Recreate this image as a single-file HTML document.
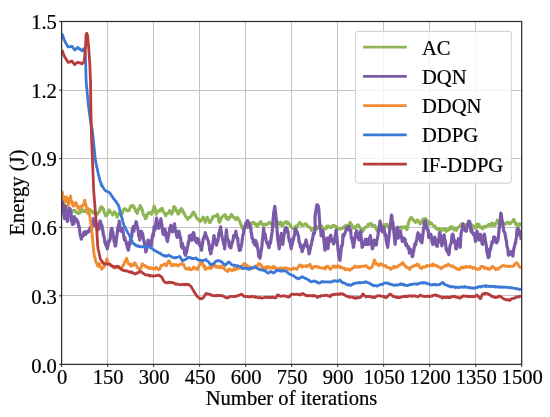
<!DOCTYPE html>
<html lang="en"><head><meta charset="utf-8"><title>Energy vs iterations</title>
<style>
html,body{margin:0;padding:0;background:#fff;}
body{width:550px;height:417px;overflow:hidden;}
svg{display:block;}
text{font-family:"Liberation Serif","Times New Roman",serif;font-size:20.6px;fill:#000;stroke:#000;stroke-width:0.22px;}
</style></head><body>
<svg width="550" height="417" viewBox="0 0 550 417">
<rect x="0" y="0" width="550" height="417" fill="#fff"/>
<g stroke="#c2c2c2" stroke-width="1" fill="none">
<line x1="61.5" y1="21.5" x2="61.5" y2="364.4"/>
<line x1="107.5" y1="21.5" x2="107.5" y2="364.4"/>
<line x1="153.5" y1="21.5" x2="153.5" y2="364.4"/>
<line x1="199.5" y1="21.5" x2="199.5" y2="364.4"/>
<line x1="245.5" y1="21.5" x2="245.5" y2="364.4"/>
<line x1="291.5" y1="21.5" x2="291.5" y2="364.4"/>
<line x1="337.5" y1="21.5" x2="337.5" y2="364.4"/>
<line x1="383.5" y1="21.5" x2="383.5" y2="364.4"/>
<line x1="429.5" y1="21.5" x2="429.5" y2="364.4"/>
<line x1="475.5" y1="21.5" x2="475.5" y2="364.4"/>
<line x1="521.5" y1="21.5" x2="521.5" y2="364.4"/>
<line x1="61.6" y1="364.5" x2="521.7" y2="364.5"/>
<line x1="61.6" y1="295.5" x2="521.7" y2="295.5"/>
<line x1="61.6" y1="227.5" x2="521.7" y2="227.5"/>
<line x1="61.6" y1="158.5" x2="521.7" y2="158.5"/>
<line x1="61.6" y1="90.5" x2="521.7" y2="90.5"/>
<line x1="61.6" y1="21.5" x2="521.7" y2="21.5"/>
</g>
<defs><clipPath id="pc"><rect x="61.6" y="21.5" width="460.1" height="342.9"/></clipPath></defs>
<g clip-path="url(#pc)" fill="none" stroke-linejoin="round" stroke-linecap="butt">
<polyline stroke="#8fb555" stroke-width="3.1" points="62.0,201.1 62.8,202.3 63.6,203.6 64.4,205.6 65.2,206.9 66.0,206.9 66.7,207.8 67.4,207.5 68.2,209.0 68.9,209.9 69.6,209.9 70.4,210.8 71.1,210.1 71.8,211.2 72.5,211.2 73.3,210.4 74.0,210.6 74.7,210.3 75.5,211.3 76.2,212.4 76.9,212.8 77.7,212.4 78.4,213.5 79.1,212.8 79.9,212.9 80.6,211.6 81.3,209.9 82.0,208.9 82.8,211.3 83.5,211.4 84.2,210.6 85.0,211.4 85.7,210.4 86.4,210.7 87.2,210.9 87.9,211.2 88.6,209.5 89.4,211.5 90.1,209.9 90.8,210.0 91.5,211.1 92.3,211.5 93.0,213.1 93.7,212.0 94.5,212.4 95.2,212.4 95.9,213.3 96.7,213.1 97.4,214.2 98.1,212.8 98.9,212.0 99.6,211.2 100.3,208.1 101.1,207.0 101.8,206.9 102.5,208.2 103.2,208.4 104.0,212.0 104.7,213.0 105.4,215.5 106.2,215.7 106.9,214.8 107.6,214.2 108.4,210.4 109.1,209.9 109.8,210.9 110.6,212.3 111.3,213.1 112.0,213.2 112.7,215.0 113.5,213.9 114.2,211.9 114.9,212.0 115.7,213.3 116.4,213.7 117.1,217.3 117.9,215.7 118.6,214.8 119.3,213.4 120.1,214.6 120.8,212.7 121.5,212.1 122.3,213.4 123.0,211.2 123.7,209.1 124.4,209.1 125.2,208.8 125.9,209.4 126.6,210.5 127.4,210.8 128.1,210.6 129.0,210.7 129.9,208.4 130.0,208.4 130.7,206.0 131.5,206.6 132.2,205.5 132.9,206.2 133.7,206.1 134.4,208.4 135.1,208.7 135.8,211.4 136.6,212.2 137.3,213.5 138.0,210.3 138.8,209.1 139.5,207.6 140.2,205.5 141.0,207.4 141.7,208.6 142.4,210.6 143.2,213.7 143.9,215.9 144.6,215.1 145.4,218.6 146.1,218.2 146.8,216.5 147.5,214.0 148.3,212.8 149.0,213.1 149.7,212.6 150.5,213.1 151.2,214.2 151.9,212.6 152.7,211.0 153.4,209.0 154.1,206.2 154.9,207.8 155.6,211.2 156.3,214.2 157.0,212.7 157.8,211.6 158.5,210.7 159.2,211.3 160.0,211.1 160.7,208.9 161.4,209.1 162.2,208.4 162.9,210.7 163.6,212.5 164.4,212.9 165.1,214.8 165.8,215.7 166.5,214.0 167.3,213.4 168.0,213.2 168.7,212.7 169.5,210.6 170.2,211.7 170.9,212.0 171.7,214.2 172.4,212.6 173.1,209.9 173.9,206.7 174.6,206.9 175.3,207.7 176.1,211.0 176.8,210.3 177.5,212.6 178.2,214.2 179.0,212.9 179.7,210.7 180.4,210.1 181.2,208.4 181.9,211.1 182.6,209.9 183.4,212.8 184.1,212.8 184.8,215.0 185.6,216.4 186.3,217.2 187.0,218.2 187.7,219.4 188.5,217.8 189.2,217.4 189.9,217.5 190.7,216.4 191.4,215.8 192.1,214.7 192.9,212.3 193.6,212.0 194.3,214.1 195.1,214.0 195.8,216.5 196.5,217.9 197.3,218.5 198.0,218.7 198.7,220.3 199.4,220.0 200.2,221.5 200.9,220.6 201.6,219.9 202.4,218.6 203.1,217.2 203.8,218.3 204.6,219.9 205.3,221.5 205.0,222.4 205.7,220.2 206.5,219.9 207.2,217.3 207.9,218.5 208.7,221.0 209.4,222.4 210.1,222.6 210.8,221.3 211.6,219.7 212.3,218.7 213.0,216.6 213.8,216.5 214.5,216.5 215.2,215.7 216.0,215.7 216.7,216.3 217.4,214.4 218.2,216.5 218.9,221.5 219.6,222.4 220.4,220.7 221.1,218.9 221.8,217.1 222.5,216.5 223.3,216.1 224.0,215.8 224.7,214.5 225.5,215.1 226.2,218.5 226.9,217.2 227.7,219.1 228.4,219.5 229.1,217.3 229.9,217.5 230.6,216.1 231.3,214.4 232.0,215.1 232.8,216.6 233.5,217.5 234.2,218.0 235.0,217.7 235.7,219.6 236.4,218.6 237.2,217.7 237.9,218.0 238.6,219.5 239.4,220.8 240.1,222.4 240.8,224.2 241.5,225.5 242.3,228.2 243.0,228.6 243.7,228.3 244.5,226.8 245.2,226.8 245.9,226.7 246.7,225.6 247.4,227.8 248.1,226.3 248.9,226.8 249.6,226.0 250.3,225.9 251.1,224.4 251.8,223.6 252.5,222.4 253.2,222.6 254.0,222.5 254.7,224.3 255.4,223.9 256.2,224.0 256.9,226.2 257.6,226.1 258.4,223.9 259.1,223.9 259.8,222.7 260.6,221.7 261.3,222.3 262.0,224.1 262.7,224.9 263.5,225.3 264.2,225.3 264.9,224.1 265.7,224.6 266.4,224.6 267.1,224.1 267.9,224.1 268.6,222.8 269.3,222.4 270.1,222.7 270.8,223.7 271.5,223.3 272.3,225.3 273.0,225.8 273.7,226.2 274.4,224.2 275.2,223.9 275.9,224.5 276.6,223.0 277.4,223.7 278.1,222.4 279.0,224.2 279.9,224.6 280.0,223.9 280.7,222.2 281.5,224.2 282.2,225.9 282.9,225.3 283.7,223.6 284.4,222.9 285.1,222.2 285.8,221.7 286.6,223.0 287.3,221.8 288.0,224.1 288.8,223.1 289.5,224.5 290.2,225.3 291.0,226.8 291.7,227.4 292.4,227.9 293.2,228.4 293.9,228.2 294.6,228.3 295.4,226.4 296.1,227.5 296.8,227.5 297.5,226.0 298.3,224.4 299.0,223.8 299.7,222.4 300.5,223.3 301.2,224.1 301.9,225.5 302.7,225.3 303.4,224.8 304.1,225.0 304.9,223.8 305.6,223.9 306.3,224.6 307.0,225.1 307.8,226.3 308.5,226.8 309.2,227.5 310.0,227.4 310.7,227.8 311.4,230.3 312.2,229.7 312.9,229.1 313.6,229.9 314.4,227.5 315.1,228.2 315.8,228.5 316.5,227.1 317.3,228.8 318.0,226.8 318.7,227.5 319.5,227.8 320.2,228.0 320.9,227.8 321.7,226.2 322.4,226.8 323.1,228.3 323.9,228.1 324.6,228.8 325.3,229.0 326.1,228.7 326.8,226.2 327.5,227.4 328.2,226.1 329.0,226.3 329.7,226.9 330.4,227.6 331.2,227.5 331.9,227.0 332.6,225.6 333.4,226.4 334.1,225.3 334.8,226.2 335.6,226.2 336.3,227.3 337.0,227.5 337.7,227.7 338.5,228.1 339.2,229.0 339.9,229.0 340.7,228.9 341.4,228.3 342.1,228.7 342.9,227.5 343.6,226.9 344.3,227.6 345.1,226.7 345.8,225.3 346.5,225.3 347.3,226.0 348.0,226.8 348.7,225.4 349.4,223.9 350.2,222.4 350.9,224.2 351.6,224.6 352.4,226.8 353.2,228.2 354.0,228.1 354.9,228.0 355.0,226.8 355.7,226.6 356.5,226.9 357.2,225.1 357.9,225.3 358.7,225.0 359.4,227.1 360.1,228.0 360.8,228.2 361.6,229.9 362.3,231.5 363.0,231.2 363.8,229.3 364.5,228.1 365.2,227.8 366.0,226.8 366.7,226.8 367.4,226.7 368.2,224.3 368.9,225.0 369.6,223.9 370.4,223.7 371.1,223.4 371.8,224.9 372.5,226.1 373.3,226.2 374.0,225.3 374.7,225.3 375.5,227.9 376.2,227.7 376.9,230.4 377.7,231.1 378.4,228.2 379.1,228.2 379.9,228.9 380.6,226.2 381.3,226.8 382.0,227.1 382.8,224.9 383.5,224.6 384.2,224.6 385.0,225.5 385.7,224.7 386.4,225.3 387.2,224.3 387.9,227.2 388.6,227.8 389.4,228.2 390.1,228.7 390.8,228.0 391.5,227.5 392.3,228.1 393.0,228.6 393.7,228.7 394.5,228.2 395.2,228.1 395.9,228.5 396.7,228.4 397.4,227.3 398.1,229.1 398.9,228.2 399.6,228.3 400.3,227.2 401.1,228.0 401.8,226.8 402.5,228.0 403.2,227.5 404.0,227.4 404.7,226.8 405.4,226.9 406.2,228.3 406.9,229.7 407.6,227.5 408.4,222.8 409.1,220.9 409.8,219.4 410.6,218.1 411.3,217.3 412.0,218.3 412.7,219.7 413.5,220.2 414.2,220.7 414.9,221.8 415.7,222.4 416.4,221.5 417.1,220.1 417.9,220.2 418.6,220.9 419.3,222.5 420.1,223.9 420.8,222.6 421.5,223.0 422.3,220.9 423.0,219.0 423.7,220.0 424.4,218.9 425.2,218.7 425.9,218.7 426.6,221.0 427.4,220.9 428.1,222.4 429.0,224.0 429.9,223.6 430.0,222.4 430.7,223.7 431.5,223.2 432.2,224.4 432.9,225.3 433.7,225.7 434.4,226.8 435.1,226.2 435.8,228.2 436.6,228.4 437.3,229.5 438.0,229.4 438.8,229.7 439.5,228.4 440.2,230.1 441.0,230.1 441.7,230.4 442.4,230.2 443.2,228.8 443.9,229.5 444.6,229.0 445.4,228.9 446.1,231.5 446.8,230.6 447.5,230.4 448.3,229.3 449.0,229.6 449.7,228.2 450.5,226.8 451.2,227.4 451.9,228.6 452.7,227.0 453.4,228.2 454.1,229.8 454.9,229.2 455.6,228.1 456.3,230.4 457.0,229.2 457.8,227.8 458.5,227.0 459.2,226.8 460.0,226.3 460.7,224.7 461.4,224.2 462.2,223.9 462.9,223.9 463.6,224.2 464.4,226.3 465.1,225.3 465.8,224.9 466.5,225.4 467.3,224.2 468.0,224.6 468.7,224.6 469.5,223.4 470.2,225.5 470.9,225.3 471.7,224.8 472.4,225.3 473.1,227.1 473.9,226.8 474.6,226.3 475.3,228.2 476.1,227.4 476.8,224.5 477.5,226.6 478.2,223.9 479.0,224.7 479.7,227.2 480.4,227.1 481.2,227.5 481.9,227.0 482.6,229.0 483.4,226.8 484.1,226.8 484.8,226.6 485.6,227.1 486.3,226.2 487.0,226.1 487.7,226.1 488.5,224.7 489.2,224.3 489.9,224.6 490.7,223.9 491.4,225.9 492.1,223.1 492.9,223.7 493.6,223.5 494.3,225.4 495.1,225.3 495.8,223.9 496.5,222.8 497.3,220.2 498.0,221.7 498.7,222.6 499.4,223.9 500.2,225.1 500.9,223.5 501.6,224.1 502.4,224.2 503.1,224.6 503.8,222.9 504.6,223.8 505.3,223.7 506.0,223.9 506.8,222.7 507.5,222.3 508.2,222.4 509.1,223.4 510.0,223.9 510.8,223.1 511.5,222.1 512.3,221.7 513.1,220.1 513.9,219.4 514.6,221.4 515.3,223.0 516.1,225.3 516.8,223.6 517.5,224.6 518.2,224.5 519.0,225.4 519.7,223.7 520.4,224.2 521.2,225.9"/>
<polyline stroke="#7a5aa8" stroke-width="3.2" points="62.0,199.6 64.5,218.6 65.2,205.5 67.4,221.5 67.9,220.1 68.3,211.2 68.7,211.0 69.2,210.8 69.6,208.4 70.1,208.9 70.6,211.5 71.1,212.9 71.6,221.3 72.1,220.9 72.5,224.5 73.0,224.0 73.4,219.5 73.9,223.6 74.3,216.6 74.7,218.6 75.2,218.2 75.7,219.5 76.2,218.9 76.7,220.0 77.2,221.7 77.7,221.5 78.1,222.4 78.6,226.9 79.0,226.1 79.5,228.4 79.9,232.7 80.4,235.7 80.9,237.0 81.3,239.1 81.8,236.4 82.3,236.7 82.8,236.5 83.3,235.7 83.8,232.6 84.2,233.2 84.7,233.4 85.1,231.7 85.6,234.5 86.0,232.1 86.4,232.6 86.9,231.8 87.3,232.5 87.7,231.3 88.2,230.9 88.6,231.8 89.1,231.6 89.6,229.2 90.1,227.7 90.6,228.3 91.1,227.0 91.5,225.9 92.0,227.4 92.4,225.7 92.9,224.4 93.3,218.5 93.7,221.5 94.2,221.1 94.6,225.2 95.0,223.8 95.5,223.8 95.9,221.8 96.3,227.1 96.8,228.4 97.2,227.5 97.6,226.0 98.0,229.8 98.5,229.4 98.9,228.4 99.4,224.2 99.8,222.4 100.2,221.0 100.7,222.8 101.1,224.7 101.5,226.2 102.0,225.5 102.4,229.8 102.9,230.3 103.4,235.3 103.9,235.6 104.4,238.2 104.9,242.7 105.4,242.9 105.8,245.3 106.3,242.6 106.8,246.6 107.3,248.8 107.7,247.0 108.1,245.3 108.5,241.5 108.9,242.4 109.3,241.6 109.7,240.0 110.2,239.3 110.6,233.7 111.1,229.6 111.5,229.3 111.9,228.3 112.4,231.5 112.8,231.9 113.2,235.7 113.7,237.4 114.1,241.5 114.6,242.4 115.1,246.0 115.6,245.9 117.8,228.3 118.3,225.7 118.8,226.6 119.2,221.0 120.7,231.2 121.1,230.0 121.6,229.3 122.0,229.5 122.5,228.3 124.4,240.0 124.8,237.5 125.2,240.6 125.7,241.0 126.1,241.8 126.5,244.4 127.0,244.8 127.4,247.7 127.9,247.5 128.3,250.2 128.8,247.5 129.3,242.6 129.7,245.0 130.2,241.5 130.6,239.1 131.1,236.7 131.5,237.5 132.0,234.5 132.4,228.3 132.9,231.1 133.4,226.4 133.9,231.2 134.3,227.9 134.7,227.9 135.2,227.6 135.6,223.9 136.1,221.7 136.5,222.5 137.0,225.7 137.5,228.0 138.0,229.8 138.4,232.1 138.8,236.3 139.3,236.3 139.7,240.0 140.2,237.7 140.7,233.6 141.2,231.2 141.6,231.6 142.0,233.4 142.5,233.3 142.9,235.6 143.4,238.6 143.9,241.0 144.3,242.5 144.8,245.9 145.3,246.0 145.8,252.0 146.3,251.0 146.7,248.1 147.2,245.2 147.6,243.0 148.0,240.1 148.5,241.5 148.9,240.9 149.4,243.0 149.8,245.0 150.2,244.1 150.7,245.9 151.1,246.6 151.5,242.7 152.0,238.0 152.4,236.1 152.9,234.2 153.3,236.2 153.7,231.6 154.2,226.5 154.6,230.2 155.1,229.8 156.5,218.1 157.0,219.9 157.4,225.0 157.8,222.8 158.3,227.6 158.7,228.3 159.2,227.3 159.6,224.5 160.0,222.4 160.5,221.7 160.9,218.8 163.1,234.2 163.5,232.2 164.0,234.5 164.4,232.5 164.9,229.0 165.3,231.2 165.7,236.2 166.2,233.0 166.6,237.1 167.0,240.5 167.5,241.5 168.7,234.2 169.1,233.3 169.5,228.9 170.0,229.0 170.4,226.7 170.8,225.4 171.3,228.0 171.7,230.0 172.2,231.2 172.6,231.9 173.0,231.2 173.5,229.8 174.0,225.8 174.5,223.9 174.9,226.8 175.4,229.3 175.8,230.9 176.3,234.8 176.7,235.6 177.1,237.4 177.6,233.1 178.0,231.8 178.5,232.8 178.9,231.2 179.3,232.4 179.8,235.4 180.2,237.9 180.6,237.7 181.1,242.9 181.5,246.9 182.0,247.7 182.4,243.4 182.8,245.7 183.3,247.3 183.7,248.7 184.2,247.7 184.6,253.7 185.0,254.4 185.5,255.4 185.9,253.1 186.3,253.0 186.8,251.1 187.2,248.8 187.7,245.9 188.1,244.4 188.5,241.4 189.0,241.7 189.4,235.5 189.9,235.6 190.3,238.0 190.7,237.7 191.2,236.1 191.6,239.6 192.0,240.0 192.5,234.2 193.0,236.1 193.5,232.7 193.9,233.3 194.4,237.8 194.8,237.0 195.3,240.3 195.7,241.5 196.1,241.4 196.6,239.6 197.0,242.8 197.5,238.5 197.9,238.5 198.3,240.7 198.8,239.7 199.2,242.2 199.6,245.3 200.1,245.9 200.6,244.8 201.1,248.3 201.5,250.2 203.3,238.5 203.8,238.0 204.3,236.1 204.7,237.1 205.2,232.7 205.6,234.5 206.1,235.2 206.5,236.4 207.0,238.9 207.4,238.5 207.9,240.1 208.4,241.1 208.9,244.4 209.3,244.8 209.7,250.4 210.2,249.0 210.6,253.8 211.1,253.2 211.5,247.2 212.0,249.0 212.5,245.9 214.0,235.6 214.4,238.0 214.9,240.8 215.3,241.5 215.7,241.5 216.2,244.4 216.6,245.1 217.0,243.3 217.5,240.1 217.9,240.8 218.4,237.1 218.8,233.3 219.2,234.1 219.7,230.3 220.1,229.8 220.6,226.9 221.0,230.8 221.4,233.7 221.9,235.6 222.3,238.5 222.7,238.5 223.2,241.5 223.7,244.3 224.2,245.3 224.6,248.8 226.4,229.8 226.8,234.7 227.3,237.3 227.7,240.1 228.2,240.0 228.6,240.4 229.1,244.9 229.6,247.0 230.1,247.3 230.5,246.9 230.9,247.8 231.4,245.5 231.8,242.5 232.3,242.9 232.7,241.2 233.1,240.0 233.6,235.6 234.0,236.5 234.4,235.6 234.9,234.8 235.4,235.2 235.9,231.2 236.3,233.7 236.8,238.0 237.2,238.4 237.7,238.0 238.1,242.9 238.5,245.6 239.0,247.9 239.4,250.4 239.9,246.5 240.3,250.2 240.8,247.4 241.2,246.3 241.7,243.8 242.2,240.0 242.6,237.1 243.1,234.2 243.5,233.9 243.9,229.2 244.4,228.3 244.8,226.9 245.3,226.4 245.7,223.1 246.1,226.9 246.6,223.9 247.1,224.1 247.6,220.7 248.0,221.0 248.5,223.1 248.9,222.6 249.4,223.8 249.8,225.7 250.2,228.3 250.7,227.0 251.1,232.1 251.5,233.5 252.0,238.2 252.4,238.5 252.9,238.6 253.3,242.4 253.7,242.8 254.2,240.3 254.6,244.4 255.1,245.0 255.5,244.7 255.9,240.7 256.4,246.3 256.8,242.9 258.3,251.7 258.7,256.7 259.2,255.5 259.6,256.1 260.0,258.3 261.9,245.9 263.7,228.3 264.2,233.3 264.6,234.5 265.1,234.0 265.6,237.1 266.1,240.6 266.5,241.9 267.0,243.0 267.5,244.4 267.9,244.4 268.4,245.9 268.8,247.7 269.2,247.3 269.7,241.6 270.2,243.7 270.7,241.5 272.2,231.2 273.6,213.7 274.8,206.4 276.3,219.5 277.7,238.5 279.2,248.8 280.9,235.6 281.4,233.5 281.8,243.1 282.3,240.2 282.7,244.4 284.6,231.2 285.0,229.4 285.5,228.1 285.9,227.5 286.3,229.8 286.8,228.3 287.2,229.0 287.7,232.7 288.1,231.8 288.5,236.9 289.0,238.5 289.4,241.5 289.9,240.2 290.3,243.4 290.7,245.9 291.2,248.8 291.6,246.8 292.0,242.8 292.5,243.6 292.9,238.6 293.4,240.0 293.8,237.7 294.2,235.8 294.7,234.0 295.1,229.2 295.6,229.0 296.0,231.7 296.4,230.5 296.9,232.4 297.3,232.1 297.7,234.2 298.2,235.2 298.6,237.0 299.1,242.4 299.5,242.7 299.9,242.9 300.4,247.0 300.8,246.4 301.3,245.6 301.7,249.2 302.1,251.7 302.6,249.9 303.0,249.3 303.5,246.7 303.9,245.6 304.3,244.4 304.8,245.2 305.2,245.7 305.6,242.0 306.1,240.0 306.6,244.0 307.0,243.8 307.5,247.3 308.0,247.3 308.5,249.4 309.0,253.9 309.4,253.2 309.9,249.7 310.3,249.3 310.8,245.6 311.2,245.5 311.6,242.9 312.1,240.9 312.5,238.6 313.0,236.6 313.4,233.1 313.8,234.2 314.3,233.7 314.8,231.5 315.3,228.3 315.0,216.6 316.8,204.9 317.2,206.9 317.7,205.0 318.2,205.9 318.7,207.8 320.1,228.3 320.6,229.2 321.1,235.8 321.6,235.6 322.1,230.3 322.6,232.9 323.0,231.2 324.9,250.2 326.7,238.5 327.1,238.0 327.6,240.3 328.0,248.6 328.5,244.4 328.9,242.3 329.4,241.4 329.9,236.7 330.4,235.6 330.8,235.2 331.3,239.3 331.8,239.2 332.3,240.0 332.7,242.0 333.1,241.7 333.6,243.9 334.0,242.9 336.2,229.8 338.1,250.2 338.5,252.7 339.0,258.2 339.4,256.8 339.9,260.5 341.6,245.9 342.1,246.0 342.6,243.0 343.0,234.7 343.5,235.6 343.9,236.1 344.4,234.0 344.8,233.6 345.3,232.3 345.7,231.2 346.1,229.5 346.6,227.8 347.0,228.7 347.5,227.1 347.9,226.9 348.3,229.2 348.8,229.6 349.2,226.3 349.6,230.5 350.1,229.8 350.6,229.8 351.1,235.9 351.5,238.5 352.0,237.6 352.4,242.3 352.9,242.9 353.3,247.3 353.8,246.6 354.3,241.3 354.7,239.1 355.2,237.1 355.7,233.0 356.2,236.1 356.6,230.5 357.1,232.7 357.5,234.0 358.0,237.8 358.4,234.7 358.9,240.0 359.3,235.1 359.7,233.7 360.2,232.6 360.6,231.2 362.1,247.3 362.6,247.1 363.0,243.9 363.5,244.0 364.0,242.9 364.4,241.9 364.9,244.5 365.3,239.4 365.7,239.4 366.2,240.0 366.6,239.4 367.0,244.4 367.5,241.9 367.9,242.4 368.4,244.4 368.8,243.3 369.3,238.4 369.8,239.5 370.3,235.6 372.3,248.8 372.8,248.2 373.3,242.9 373.7,243.7 374.2,240.0 374.6,244.9 375.1,241.7 375.5,243.6 376.0,245.1 376.4,244.4 376.9,240.4 377.4,238.4 377.9,235.6 380.1,221.0 380.5,223.6 381.0,227.7 381.5,228.9 382.0,231.2 382.4,231.8 382.8,229.2 383.3,227.9 383.7,226.9 384.2,229.9 384.6,232.3 385.0,235.4 385.5,233.9 385.9,237.1 386.3,241.2 386.8,243.5 387.2,245.2 387.7,247.3 390.0,228.3 391.5,215.2 391.9,216.3 392.3,221.5 392.8,222.1 393.2,225.4 395.1,244.4 397.0,228.3 397.5,227.3 397.9,231.0 398.3,238.2 398.8,237.1 399.2,232.7 399.6,232.9 400.1,231.7 400.5,231.2 401.0,235.6 401.5,236.3 402.0,240.2 402.4,241.5 402.9,239.7 403.3,240.3 403.7,238.1 404.2,239.7 404.6,240.0 405.1,239.1 405.5,243.8 405.9,245.2 406.4,243.5 406.8,245.9 407.3,245.7 407.7,246.3 408.1,248.6 408.6,246.8 409.0,248.8 409.4,253.1 409.9,249.9 410.3,249.1 410.8,250.7 411.2,253.2 411.7,252.4 412.2,256.7 412.7,256.1 413.1,253.2 413.6,251.8 414.1,247.7 414.6,245.9 415.0,243.6 415.4,245.3 415.9,242.9 416.3,241.5 416.8,239.6 417.2,236.6 417.6,234.6 418.1,232.7 418.5,234.1 419.0,238.0 419.5,234.6 420.0,237.1 420.4,240.8 420.9,241.3 421.4,241.4 421.9,242.9 423.6,228.3 424.1,226.8 424.5,221.7 424.9,222.1 425.4,221.0 425.9,226.9 426.3,228.1 426.8,225.9 427.3,229.8 427.8,230.6 428.2,230.6 428.7,237.7 429.2,237.1 429.6,234.4 430.1,237.6 430.5,235.8 430.9,234.2 431.4,236.9 431.8,240.9 432.3,242.6 432.7,244.4 433.2,242.5 433.6,240.3 434.1,239.4 434.6,237.1 435.1,237.9 435.5,240.1 436.0,244.7 436.5,245.9 436.9,243.6 437.4,246.3 437.8,241.3 438.2,240.0 438.7,242.2 439.1,237.0 439.6,232.5 440.0,232.7 441.9,245.9 442.4,243.9 442.9,239.7 443.3,236.7 443.8,235.6 444.2,234.9 444.7,239.8 445.1,240.0 445.6,242.9 446.0,247.6 446.4,250.2 446.9,249.2 447.3,251.7 447.8,252.3 448.3,252.2 448.8,254.6 449.2,253.3 449.7,247.6 450.2,245.2 450.7,244.4 451.1,243.3 451.5,241.1 452.0,235.0 452.4,237.3 452.9,234.2 453.3,235.7 453.7,239.4 454.2,239.7 454.6,242.9 455.1,241.0 455.6,247.0 456.0,248.9 456.5,248.8 457.0,243.0 457.5,245.8 457.9,242.6 458.4,238.5 458.9,243.0 459.3,240.3 459.7,243.6 460.2,247.3 461.0,234.2 461.4,231.8 461.9,230.3 462.4,227.4 462.9,223.9 463.3,224.8 463.7,227.6 464.2,227.9 464.6,229.8 465.1,230.6 465.5,231.1 465.9,231.2 466.4,231.1 466.8,228.3 467.3,226.3 467.8,223.8 468.2,224.4 468.7,221.0 469.2,224.2 469.6,221.6 470.0,222.8 470.5,226.9 470.9,230.9 471.3,231.7 471.8,229.4 472.2,232.7 472.7,233.1 473.2,234.4 473.6,233.3 474.1,235.6 474.6,235.4 475.1,239.5 475.6,241.5 477.0,231.2 477.5,232.9 478.0,239.0 478.5,237.4 478.9,240.0 479.4,238.6 479.8,237.8 480.3,234.3 480.7,235.6 481.1,240.8 481.6,240.2 482.0,243.1 482.5,244.4 482.9,242.8 483.4,239.1 483.9,235.4 484.4,234.2 486.3,245.9 486.7,250.2 487.1,253.1 487.5,253.2 487.9,256.2 488.3,257.6 488.8,257.1 489.3,255.8 489.7,248.9 490.2,250.2 490.6,249.2 491.1,245.8 491.5,245.5 492.0,241.7 492.4,241.5 492.8,242.8 493.3,241.1 493.7,237.2 494.2,237.5 494.6,237.1 495.1,238.9 495.5,239.7 496.0,241.9 496.5,242.9 496.9,242.4 497.4,238.9 497.8,241.0 498.2,238.5 499.7,223.9 500.9,213.0 501.4,215.7 501.9,220.2 502.3,221.0 503.8,231.2 504.2,232.0 504.7,232.3 505.1,234.3 505.6,237.1 506.0,239.8 506.4,240.4 506.9,246.2 507.3,247.3 507.8,248.2 508.3,254.8 508.7,255.3 509.2,254.6 509.7,254.1 510.2,252.6 510.6,252.2 511.1,251.7 511.5,254.2 512.0,254.0 512.4,254.8 512.9,256.1 513.3,251.5 513.7,249.3 514.2,247.3 514.6,245.9 515.1,243.2 515.6,243.0 516.0,239.5 516.5,237.1 517.0,229.7 517.5,235.2 517.9,228.3 518.4,229.8 518.9,230.2 519.4,233.6 519.9,231.2 521.3,240.0"/>
<polyline stroke="#f28c33" stroke-width="2.9" points="62.0,190.8 62.5,194.0 62.9,198.6 63.3,199.2 63.8,197.4 64.2,198.4 64.6,196.8 65.1,199.7 65.5,201.2 66.0,201.8 66.4,198.8 66.7,196.9 67.1,199.6 67.6,199.3 68.0,198.3 68.5,205.6 68.9,203.3 69.3,202.7 69.8,199.8 70.2,197.8 70.6,196.0 71.1,201.0 71.6,202.0 72.1,201.4 72.5,204.0 73.0,206.0 73.5,204.0 74.0,205.7 74.5,203.4 75.0,205.3 75.5,203.3 75.9,202.5 76.4,203.4 76.8,206.1 77.3,206.6 77.8,205.7 78.2,208.2 78.7,207.9 79.1,209.1 79.6,206.7 80.1,206.9 80.6,207.2 81.1,206.1 81.6,207.0 82.0,206.2 82.5,205.8 83.0,205.6 83.5,204.0 84.0,204.1 84.5,200.1 85.0,200.4 85.4,204.7 85.8,204.1 86.3,206.3 86.7,209.1 87.2,210.6 87.6,213.4 88.0,208.4 88.5,211.3 88.9,213.1 89.4,214.2 91.5,227.4 93.0,243.5 93.7,251.7 94.5,256.1 95.2,258.6 95.9,261.9 96.7,263.2 97.4,265.4 98.1,266.3 98.9,263.4 99.6,264.5 100.3,266.4 101.1,268.2 101.8,269.2 102.5,268.0 103.2,266.9 104.0,267.0 104.7,265.1 105.4,262.8 106.2,261.5 106.9,259.0 107.6,260.9 108.4,263.4 109.1,263.7 109.8,264.0 110.6,265.1 111.3,265.6 112.0,265.6 112.7,266.3 113.5,267.2 114.2,267.8 114.9,266.6 115.7,267.5 116.4,267.9 117.1,266.3 117.9,267.0 118.6,268.1 119.3,268.0 120.1,268.2 120.8,268.5 121.5,268.9 122.3,267.2 123.0,265.2 123.7,264.9 124.4,262.9 125.2,261.1 125.9,260.4 126.6,258.3 127.4,261.1 128.1,263.1 128.8,264.1 129.6,264.6 130.3,265.2 131.0,266.3 130.0,264.5 130.7,263.9 131.5,264.6 132.2,265.2 132.9,265.2 133.7,265.1 134.4,262.8 135.1,263.0 135.8,265.1 136.6,265.7 137.3,267.4 138.0,268.1 138.8,268.6 139.5,268.5 140.2,268.9 141.0,268.3 141.7,265.6 142.4,263.7 143.2,264.9 143.9,264.9 144.6,265.9 145.4,266.5 146.1,266.0 146.8,267.1 147.5,266.9 148.3,268.2 149.0,267.4 149.7,267.8 150.5,268.6 151.2,268.2 151.9,267.7 152.7,268.3 153.4,268.9 154.1,268.3 154.9,268.9 155.6,268.0 156.3,267.4 157.0,268.4 157.8,268.6 158.5,269.8 159.2,269.6 160.0,268.7 160.7,266.6 161.4,265.2 162.2,265.2 162.9,265.3 163.6,264.8 164.4,263.7 165.1,264.5 165.8,265.1 166.5,265.9 167.3,263.3 168.0,262.8 168.7,260.8 169.5,261.6 170.2,262.9 170.9,263.9 171.7,265.9 172.4,265.4 173.1,265.5 173.9,264.3 174.6,265.1 175.3,265.2 176.1,264.9 176.8,264.8 177.5,265.8 178.2,265.9 179.0,265.2 179.7,264.5 180.4,264.2 181.2,263.7 181.9,264.2 182.6,263.7 183.4,264.1 184.1,266.4 184.8,267.0 185.6,268.9 186.3,268.8 187.0,268.7 187.7,269.3 188.5,268.1 189.2,267.8 189.9,269.1 190.7,269.8 191.4,269.6 192.1,269.5 192.9,268.8 193.6,266.9 194.3,267.4 195.1,268.7 195.8,268.5 196.5,268.2 197.3,269.6 198.0,268.1 198.7,266.7 199.4,265.0 200.2,263.0 200.9,263.2 201.6,264.0 202.4,263.4 203.1,264.5 203.8,266.8 204.6,265.8 205.3,266.7 205.0,269.4 205.7,269.4 206.5,268.8 207.2,268.1 207.9,267.9 208.7,268.2 209.4,267.2 210.1,268.4 210.8,268.6 211.6,267.5 212.3,267.1 213.0,266.2 213.8,265.7 214.5,265.4 215.2,265.3 216.0,267.3 216.7,266.4 217.4,267.3 218.2,267.4 218.9,266.4 219.6,267.9 220.4,267.9 221.1,266.0 221.8,267.2 222.5,266.4 223.3,268.1 224.0,267.0 224.7,269.2 225.5,270.1 226.2,270.4 226.9,270.6 227.7,271.5 228.4,270.8 229.1,268.9 229.9,269.4 230.6,269.6 231.3,270.2 232.0,270.8 232.8,270.1 233.5,269.6 234.2,268.3 235.0,270.0 235.7,269.4 236.4,268.5 237.2,269.0 237.9,268.1 238.6,267.9 239.4,268.3 240.1,268.0 240.8,267.2 241.5,267.2 242.3,265.8 243.0,265.9 243.7,263.6 244.5,263.5 245.2,264.3 245.9,264.5 246.7,266.4 247.4,265.8 248.1,266.2 248.9,267.2 249.6,267.8 250.3,267.0 251.1,268.5 251.8,267.9 252.5,268.3 253.2,267.9 254.0,267.3 254.7,267.1 255.4,265.9 256.2,266.4 256.9,265.8 257.6,265.5 258.4,263.8 259.1,263.5 259.8,264.4 260.6,264.7 261.3,266.4 262.0,266.1 262.7,268.2 263.5,267.9 264.2,268.6 264.9,267.2 265.7,268.6 266.4,267.9 267.1,266.4 267.9,268.2 268.6,267.0 269.3,267.2 270.1,267.0 270.8,268.1 271.5,267.9 272.3,267.9 273.0,266.5 273.7,268.3 274.4,267.0 275.2,267.2 275.9,267.9 276.6,268.3 277.4,269.3 278.1,269.4 279.0,268.9 279.9,267.9 280.0,267.9 280.7,268.3 281.5,268.0 282.2,268.9 282.9,268.6 283.7,269.1 284.4,267.9 285.1,268.1 285.8,267.9 286.6,268.3 287.3,268.7 288.0,268.7 288.8,268.6 289.5,269.0 290.2,269.8 291.0,269.7 291.7,269.4 292.4,268.9 293.2,267.8 293.9,268.8 294.6,268.6 295.4,268.9 296.1,268.4 296.8,269.1 297.5,267.9 298.3,267.0 299.0,265.6 299.7,265.0 300.5,265.7 301.2,265.2 301.9,267.2 302.7,266.8 303.4,266.0 304.1,266.4 304.9,266.4 305.6,265.8 306.3,265.5 307.0,266.7 307.8,265.7 308.5,265.9 309.2,264.8 310.0,264.2 310.7,266.2 311.4,267.8 312.2,268.6 312.9,268.3 313.6,266.6 314.4,266.6 315.1,266.4 315.8,266.7 316.5,267.1 317.3,266.6 318.0,267.2 318.7,266.8 319.5,267.7 320.2,267.8 320.9,267.9 321.7,267.8 322.4,268.4 323.1,268.1 323.9,267.9 324.6,267.6 325.3,269.0 326.1,266.9 326.8,266.3 327.5,266.4 328.2,266.5 329.0,267.9 329.7,268.5 330.4,269.4 331.2,268.3 331.9,267.8 332.6,267.2 333.4,265.9 334.1,266.1 334.8,267.2 335.6,266.4 336.3,267.4 337.0,267.2 337.7,265.7 338.5,265.7 339.2,266.4 339.9,267.6 340.7,266.7 341.4,267.9 342.1,268.2 342.9,267.9 343.6,267.9 344.3,268.6 345.1,269.8 345.8,268.7 346.5,269.3 347.3,269.4 348.0,269.3 348.7,268.9 349.4,270.2 350.2,270.1 350.9,269.1 351.6,269.0 352.4,268.0 353.1,267.9 354.0,267.5 354.9,266.0 355.0,266.4 355.7,267.0 356.5,267.3 357.2,266.5 357.9,266.4 358.7,267.2 359.4,267.4 360.1,266.5 360.8,266.7 361.6,266.3 362.3,266.4 363.0,266.4 363.8,266.0 364.5,266.4 365.2,266.0 366.0,265.7 366.7,265.9 367.4,267.0 368.2,268.0 368.9,268.1 369.6,268.6 370.4,268.0 371.1,267.9 371.8,267.0 372.5,265.7 373.2,263.7 373.8,261.5 374.4,259.9 375.3,261.8 376.2,264.2 376.9,264.4 377.7,264.1 378.4,265.0 379.1,265.9 379.9,264.3 380.6,263.7 381.3,264.2 382.0,264.2 382.8,264.6 383.5,266.1 384.2,265.7 385.0,265.9 385.7,265.5 386.4,267.3 387.2,267.2 387.9,267.2 388.6,267.6 389.4,267.9 390.1,268.6 390.8,269.4 391.5,268.9 392.3,267.7 393.0,267.9 393.7,266.4 394.5,267.7 395.2,267.0 395.9,266.7 396.7,267.2 397.4,266.7 398.1,266.2 398.9,265.5 399.6,265.0 400.3,265.0 401.1,264.5 401.8,263.2 402.5,262.8 403.2,262.7 404.0,264.7 404.7,265.2 405.4,266.4 406.2,266.4 406.9,267.9 407.6,267.9 408.4,267.8 409.1,267.9 409.8,269.4 410.6,267.5 411.3,267.2 412.0,266.7 412.7,265.9 413.5,266.4 414.2,265.9 414.9,265.3 415.7,265.7 416.4,264.9 417.1,264.1 417.9,265.0 418.6,264.6 419.3,266.4 420.1,267.7 420.8,267.9 421.5,268.7 422.3,267.2 423.0,266.7 423.7,267.3 424.4,267.2 425.2,266.9 425.9,266.7 426.6,265.4 427.4,265.9 428.1,265.7 428.7,265.9 429.4,266.0 430.0,265.7 430.7,265.5 431.5,264.8 432.2,265.8 432.9,264.0 433.7,265.0 434.4,265.5 435.1,265.2 435.8,265.3 436.6,266.3 437.3,265.7 438.0,266.8 438.8,266.9 439.5,266.9 440.2,267.8 441.0,268.6 441.7,268.3 442.4,267.6 443.2,266.7 443.9,266.4 444.6,266.4 445.4,265.6 446.1,266.2 446.8,265.5 447.5,265.3 448.3,264.1 449.0,265.0 449.7,265.5 450.5,265.5 451.2,265.9 451.9,266.7 452.7,265.9 453.4,266.4 454.1,266.9 454.9,268.0 455.6,267.7 456.3,268.1 457.0,269.0 457.8,269.1 458.5,269.4 459.2,269.5 460.0,268.5 460.7,268.7 461.4,267.0 462.2,267.2 462.9,267.6 463.6,268.0 464.4,267.0 465.1,267.2 465.8,266.3 466.5,267.2 467.3,267.0 468.0,266.7 468.7,266.7 469.5,267.2 470.2,266.4 470.9,267.2 471.7,267.3 472.4,267.4 473.1,268.5 473.9,267.9 474.6,267.2 475.3,268.1 476.1,268.9 476.8,269.1 477.5,269.4 478.2,269.4 479.0,268.6 479.7,269.1 480.4,267.4 481.2,266.4 481.9,266.6 482.6,266.4 483.4,266.9 484.1,268.2 484.8,267.3 485.6,268.3 486.3,267.9 487.0,268.8 487.7,268.2 488.5,268.8 489.2,269.3 489.9,269.4 490.7,268.5 491.4,267.3 492.1,267.0 492.9,266.4 493.6,267.6 494.3,268.0 495.1,268.3 495.8,269.7 496.5,269.4 497.3,268.6 498.0,269.2 498.7,268.2 499.4,267.9 500.2,267.2 500.9,266.6 501.6,266.7 502.4,265.7 503.1,265.7 503.8,265.5 504.6,265.9 505.3,266.3 506.0,266.3 506.8,266.4 507.6,266.3 508.4,266.0 509.2,266.8 510.0,266.4 510.8,266.1 511.5,266.1 512.3,266.2 513.1,266.3 514.0,265.7 514.8,263.9 515.7,263.5 516.5,262.7 517.3,263.3 518.1,264.6 519.0,266.3 519.7,267.2 520.4,267.3 521.2,267.8"/>
<polyline stroke="#3c78d8" stroke-width="2.8" points="62.0,33.9 62.9,36.0 63.8,39.0 64.5,40.3 65.2,41.9 66.0,43.4 66.7,44.5 67.4,45.7 68.2,47.0 68.9,46.7 69.6,46.8 70.4,46.7 71.1,46.7 71.8,46.3 72.5,46.9 73.3,48.1 74.0,48.9 74.7,50.0 75.5,49.4 76.2,49.0 76.9,48.0 77.7,47.5 78.4,47.9 79.1,48.8 79.9,48.9 80.6,49.9 81.3,50.1 82.0,50.7 82.8,50.2 83.5,48.9 84.2,48.5 85.3,53.6 85.8,68.2 86.1,81.0 88.3,104.2 90.8,123.2 91.5,126.6 92.3,130.0 95.2,158.5 95.9,162.9 96.7,166.5 97.5,170.0 98.3,173.8 99.2,177.4 100.0,181.2 100.7,182.4 101.4,184.2 102.1,185.6 101.1,185.0 101.8,185.7 102.5,186.5 103.2,187.7 104.0,188.8 104.7,189.8 105.4,190.8 106.2,191.0 106.9,191.3 107.6,191.7 108.4,192.1 109.1,192.3 109.8,193.3 110.6,194.1 111.3,195.2 112.0,196.3 112.7,197.2 113.5,198.7 114.2,199.1 114.9,200.4 115.7,201.1 116.4,202.2 117.1,203.2 117.9,204.7 118.6,205.5 119.3,208.0 120.1,211.5 120.8,214.2 121.5,216.6 122.3,219.4 123.0,222.1 123.7,224.5 124.4,226.2 125.2,227.3 125.9,228.7 126.6,230.4 127.4,232.0 128.1,233.2 129.0,234.6 129.9,236.2 130.0,236.7 130.7,238.7 131.5,240.1 132.2,241.3 132.9,243.3 133.7,244.0 134.4,244.2 135.1,244.4 135.8,245.5 136.6,245.7 137.3,246.2 138.0,245.8 138.8,246.7 139.5,246.5 140.2,246.4 141.0,246.9 141.7,246.9 142.4,246.6 143.2,246.8 143.9,246.7 144.6,246.4 145.4,246.8 146.1,246.2 146.8,246.6 147.5,247.0 148.3,247.1 149.0,247.2 149.7,247.3 150.5,247.7 151.2,248.0 151.9,248.5 152.7,249.2 153.4,249.6 154.1,250.2 154.9,250.6 155.6,251.0 156.3,251.1 157.0,251.8 157.8,252.3 158.5,252.6 159.2,252.8 160.0,253.5 160.7,253.4 161.4,254.4 162.2,254.9 162.9,255.2 163.6,255.7 164.4,255.8 165.1,255.5 165.8,256.3 166.5,256.4 167.3,256.0 168.0,255.5 168.7,255.0 169.5,255.6 170.2,256.1 170.9,256.2 171.7,257.2 172.4,257.2 173.1,257.5 173.9,257.8 174.6,257.6 175.3,257.9 176.1,257.4 176.8,257.5 177.5,257.2 178.2,257.0 179.0,256.7 179.7,256.4 180.4,257.5 181.2,258.8 181.9,260.2 182.6,260.8 183.4,260.4 184.1,259.8 184.8,259.9 185.6,259.4 186.3,259.0 187.0,258.5 187.7,257.7 188.5,257.2 189.2,257.3 189.9,257.8 190.7,257.7 191.4,258.0 192.1,258.7 192.9,258.6 193.6,258.4 194.3,258.6 195.1,258.2 195.8,257.9 196.5,258.2 197.3,259.5 198.0,259.6 198.7,260.1 199.4,260.3 200.2,260.2 200.9,260.2 201.6,260.7 202.4,260.8 203.1,260.8 203.8,260.3 204.6,260.0 205.3,259.7 206.0,259.4 205.0,259.9 205.7,259.7 206.5,260.7 207.2,261.0 207.9,261.3 208.7,262.1 209.4,263.2 210.1,263.9 210.8,265.0 211.6,264.5 212.3,264.8 213.0,263.7 213.8,263.5 214.5,262.7 215.2,262.1 216.0,261.3 216.7,260.9 217.4,260.7 218.2,260.9 218.9,260.6 219.6,261.1 220.4,261.0 221.1,261.6 221.8,261.8 222.5,262.8 223.3,263.7 224.0,264.0 224.7,264.4 225.5,265.0 226.2,264.2 226.9,263.6 227.7,262.9 228.4,262.0 229.1,262.1 229.9,262.6 230.6,263.5 231.3,264.5 232.0,264.8 232.8,265.0 233.5,265.4 234.2,265.0 235.0,265.4 235.7,265.5 236.4,265.7 237.2,266.2 237.9,265.7 238.6,266.0 239.4,266.3 240.1,266.4 240.8,267.0 241.5,267.8 242.3,268.4 243.0,268.6 243.7,268.1 244.5,268.4 245.2,267.9 245.9,267.9 246.7,268.5 247.4,268.5 248.1,269.1 248.9,269.4 249.6,269.3 250.3,268.2 251.1,268.4 251.8,267.9 252.5,267.7 253.2,267.7 254.0,267.5 254.7,266.8 255.4,267.2 256.2,267.8 256.9,268.3 257.6,268.3 258.4,268.5 259.1,269.4 259.8,269.6 260.6,269.8 261.3,269.7 262.0,270.1 262.7,270.1 263.5,270.2 264.2,270.7 264.9,270.8 265.7,271.3 266.4,272.0 267.1,272.6 267.9,273.0 268.6,273.0 269.3,272.3 270.1,271.7 270.8,271.5 271.5,271.7 272.3,272.6 273.0,272.7 273.7,273.0 274.4,272.3 275.2,271.7 275.9,271.3 276.6,270.1 277.4,270.0 278.1,270.1 278.8,270.6 279.6,270.8 280.0,270.8 280.7,270.7 281.5,271.3 282.2,270.6 282.9,270.8 283.7,270.9 284.4,271.0 285.1,271.0 285.8,270.8 286.6,271.6 287.3,272.0 288.0,273.1 288.8,273.7 289.5,274.0 290.2,274.4 291.0,274.7 291.7,275.2 292.4,275.3 293.2,275.6 293.9,275.8 294.6,276.7 295.4,277.3 296.1,277.5 296.8,278.3 297.5,278.2 298.3,278.9 299.0,278.6 299.7,278.0 300.5,277.7 301.2,277.3 301.9,276.7 302.7,277.1 303.4,277.4 304.1,277.7 304.9,278.1 305.6,278.6 306.3,278.7 307.0,279.0 307.8,279.6 308.5,280.1 309.2,280.4 310.0,281.1 310.7,281.8 311.4,281.7 312.2,281.6 312.9,281.3 313.6,280.9 314.4,281.3 315.1,281.1 315.8,281.8 316.5,282.1 317.3,282.0 318.0,282.9 318.7,283.2 319.5,282.9 320.2,282.9 320.9,282.5 321.7,281.5 322.4,281.8 323.1,281.8 323.9,281.7 324.6,282.0 325.3,281.9 326.1,281.9 326.8,281.8 327.5,281.9 328.2,282.1 329.0,281.9 329.7,282.1 330.4,281.8 331.2,282.0 331.9,281.6 332.6,281.7 333.4,280.8 334.1,281.1 334.8,280.7 335.6,281.1 336.3,281.1 337.0,281.0 337.7,281.5 338.5,281.1 339.2,280.5 339.9,280.0 340.7,280.7 341.4,281.8 342.1,282.2 342.9,282.9 343.6,282.7 344.3,283.2 345.1,283.3 345.8,283.9 346.5,284.5 347.3,284.7 348.0,285.2 348.7,284.4 349.4,284.9 350.2,285.4 350.9,285.4 351.6,284.8 352.4,284.4 353.1,283.7 353.8,284.0 354.6,283.2 355.0,283.2 355.7,283.1 356.5,283.2 357.2,282.9 357.9,282.9 358.7,282.5 359.4,282.8 360.1,282.5 360.8,282.8 361.6,282.8 362.3,282.5 363.0,282.3 363.8,282.5 364.5,282.4 365.2,281.7 366.0,281.8 366.7,282.2 367.4,282.6 368.2,282.7 368.9,283.1 369.6,283.2 370.4,283.7 371.1,284.4 371.8,284.9 372.5,285.0 373.3,285.4 374.0,286.0 374.7,285.4 375.5,285.7 376.2,285.7 376.9,286.2 377.7,285.6 378.4,285.5 379.1,285.2 379.9,284.6 380.6,284.7 381.3,284.4 382.0,284.5 382.8,284.2 383.5,283.7 384.2,283.2 385.0,283.1 385.7,282.8 386.4,282.9 387.2,283.4 387.9,283.2 388.6,283.4 389.4,283.8 390.1,284.3 390.8,284.1 391.5,284.7 392.3,284.6 393.0,285.0 393.7,284.9 394.5,285.1 395.2,285.4 395.9,284.9 396.7,285.0 397.4,285.3 398.1,285.0 398.9,284.7 399.6,284.6 400.3,283.8 401.1,284.5 401.8,284.0 402.5,284.6 403.2,284.6 404.0,284.4 404.7,285.4 405.4,285.3 406.2,285.4 406.9,285.3 407.6,285.6 408.4,285.2 409.1,284.9 409.8,284.7 410.6,284.7 411.3,284.4 412.0,284.5 412.7,284.1 413.5,284.0 414.2,283.8 414.9,283.9 415.7,283.8 416.4,284.3 417.1,284.1 417.9,284.0 418.6,283.3 419.3,283.4 420.1,283.4 420.8,283.2 421.5,282.7 422.3,282.5 423.0,283.1 423.7,282.7 424.4,282.5 425.2,283.1 425.9,283.0 426.6,283.2 427.4,283.7 428.1,283.8 428.8,283.7 429.6,284.0 430.0,284.7 430.7,284.8 431.5,284.9 432.2,285.0 432.9,284.6 433.7,284.2 434.4,284.7 435.1,284.3 435.8,285.1 436.6,284.6 437.3,284.9 438.0,284.8 438.8,284.7 439.5,284.4 440.2,284.2 441.0,283.7 441.7,282.8 442.4,282.5 443.2,282.9 443.9,283.3 444.6,284.6 445.4,284.7 446.1,285.1 446.8,285.2 447.5,285.8 448.3,285.6 449.0,286.2 449.7,286.5 450.5,286.3 451.2,287.0 451.9,286.6 452.7,286.7 453.4,286.9 454.1,287.0 454.9,287.1 455.6,287.8 456.3,287.2 457.0,287.0 457.8,287.4 458.5,287.5 459.2,287.3 460.0,287.4 460.7,287.0 461.4,286.9 462.2,287.2 462.9,287.2 463.6,287.4 464.4,286.4 465.1,286.9 465.8,287.3 466.5,287.2 467.3,287.2 468.0,287.5 468.7,287.4 469.5,287.6 470.2,287.9 470.9,288.0 471.7,287.9 472.4,287.9 473.1,288.4 473.9,288.4 474.6,287.6 475.3,287.8 476.1,287.9 476.8,287.3 477.5,287.4 478.2,286.9 479.0,286.7 479.7,286.8 480.4,286.5 481.2,287.0 481.9,286.7 482.6,286.1 483.4,286.1 484.1,286.2 484.8,286.3 485.6,285.6 486.3,286.7 487.0,286.0 487.7,286.2 488.5,286.2 489.2,286.7 489.9,286.4 490.7,286.1 491.4,286.5 492.1,286.3 492.9,286.5 493.6,286.6 494.3,286.2 495.1,287.1 495.8,286.6 496.5,286.9 497.3,286.9 498.0,287.1 498.7,286.9 499.4,287.2 500.2,286.8 500.9,287.3 501.6,287.2 502.4,286.9 503.1,287.2 503.9,287.3 504.6,287.2 505.4,287.1 506.2,287.1 506.9,287.3 507.7,287.4 508.4,287.6 509.2,287.3 510.0,287.6 510.7,287.8 511.5,287.7 512.3,287.9 513.1,288.1 513.9,288.2 514.6,288.3 515.3,288.4 516.1,288.6 516.8,288.9 517.5,288.7 518.2,289.0 519.0,289.1 519.7,289.6 520.4,289.1 521.2,289.4"/>
<polyline stroke="#b83c3c" stroke-width="2.8" points="62.0,50.0 62.9,52.3 63.8,55.1 64.5,56.4 65.2,57.8 66.0,58.7 66.7,60.0 67.4,61.3 68.2,62.4 68.9,62.1 69.6,61.8 70.4,61.9 71.1,61.3 71.8,60.9 72.5,61.9 73.3,62.9 74.0,63.8 74.7,64.6 75.5,63.4 76.2,63.3 76.9,63.0 77.7,62.1 78.4,62.6 79.1,62.8 79.9,62.7 80.6,63.2 81.3,63.6 82.0,63.9 82.8,62.8 83.5,62.5 84.2,61.7 85.4,49.2 86.1,34.6 86.7,33.2 87.6,35.8 88.8,49.2 89.8,63.9 90.5,81.0 90.8,104.2 91.5,136.0 93.7,191.0 96.7,228.9 97.7,246.0 98.1,248.8 98.9,252.2 99.6,255.5 100.3,259.0 101.1,260.3 101.8,260.9 102.5,262.4 103.2,263.4 104.0,263.6 104.7,263.8 105.4,263.8 106.2,263.9 106.9,264.1 107.6,264.1 108.4,264.3 109.1,264.4 109.8,264.2 110.6,264.9 111.3,266.0 112.0,266.0 112.7,266.3 113.5,267.0 114.2,267.4 114.9,266.8 115.7,266.8 116.4,266.3 117.1,266.5 117.9,266.3 118.6,266.7 119.3,267.5 120.1,267.9 120.8,269.1 121.5,269.5 122.3,270.0 123.0,270.4 123.7,270.4 124.4,270.6 125.2,270.8 125.9,270.7 126.6,270.7 127.4,271.1 128.1,271.4 128.8,271.9 129.6,272.0 130.3,272.1 131.0,272.5 130.0,271.6 130.7,271.6 131.5,272.6 132.2,272.2 132.9,272.7 133.7,273.4 134.4,273.8 135.1,273.7 135.8,273.9 136.6,273.0 137.3,273.0 138.0,273.0 138.8,272.1 139.5,271.4 140.2,271.1 141.0,272.1 141.7,272.1 142.4,272.7 143.2,273.5 143.9,273.9 144.6,274.2 145.4,274.8 146.1,274.8 146.8,275.0 147.5,275.2 148.3,275.0 149.0,275.2 149.7,276.0 150.5,275.5 151.2,275.8 151.9,275.9 152.7,276.0 153.4,276.0 154.1,276.1 154.9,275.8 155.6,275.6 156.3,275.6 157.0,275.7 157.8,275.0 158.5,275.3 159.2,275.2 160.0,276.0 160.7,276.5 161.4,276.7 162.2,278.0 162.9,279.2 163.6,280.8 164.4,281.8 165.1,282.4 165.8,282.3 166.5,282.8 167.3,282.7 168.0,282.9 168.7,282.1 169.5,282.1 170.2,282.5 170.9,282.7 171.7,282.6 172.4,282.3 173.1,282.9 173.9,283.2 174.6,283.3 175.3,284.0 176.1,284.4 176.8,284.1 177.5,284.0 178.2,284.3 179.0,284.5 179.7,284.7 180.4,284.9 181.2,284.7 181.9,284.7 182.6,284.5 183.4,284.4 184.1,284.6 184.8,284.8 185.6,284.0 186.3,284.7 187.0,284.6 187.7,284.4 188.5,284.3 189.2,284.8 189.9,285.6 190.7,286.1 191.4,286.9 192.1,288.5 192.9,289.5 193.6,290.8 194.3,292.0 195.1,293.6 195.8,294.2 196.5,295.5 197.3,296.4 198.0,297.0 198.7,297.7 199.4,298.1 200.2,298.9 200.9,298.5 201.6,298.8 202.4,298.2 203.1,297.9 203.8,297.0 204.6,295.9 205.3,294.2 205.0,295.7 205.7,294.4 206.5,293.5 207.2,293.6 207.9,294.0 208.7,294.2 209.4,294.2 210.1,294.4 210.8,295.1 211.6,295.3 212.3,295.2 213.0,295.6 213.8,295.7 214.5,295.6 215.2,295.8 216.0,295.7 216.7,295.2 217.4,295.9 218.2,295.4 218.9,295.4 219.6,295.5 220.4,295.4 221.1,295.7 221.8,295.8 222.5,295.7 223.3,296.0 224.0,296.5 224.7,296.9 225.5,297.3 226.2,297.9 226.9,297.9 227.7,297.9 228.4,297.3 229.1,297.1 229.9,296.7 230.6,296.4 231.3,296.3 232.0,296.4 232.8,296.4 233.5,296.5 234.2,296.4 235.0,296.5 235.7,296.2 236.4,296.4 237.2,295.7 237.9,295.7 238.6,295.4 239.4,295.1 240.1,294.9 240.8,294.6 241.5,294.2 242.3,294.7 243.0,295.4 243.7,296.1 244.5,296.4 245.2,296.7 245.9,296.3 246.7,296.6 247.4,296.6 248.1,296.4 248.9,296.9 249.6,296.8 250.3,296.7 251.1,296.9 251.8,296.2 252.5,296.4 253.2,296.4 254.0,296.9 254.7,297.4 255.4,296.6 256.2,297.2 256.9,297.1 257.6,297.5 258.4,297.8 259.1,297.7 259.8,297.4 260.6,297.6 261.3,298.1 262.0,297.9 262.7,297.9 263.5,297.8 264.2,297.5 264.9,297.2 265.7,297.2 266.4,297.5 267.1,297.3 267.9,297.4 268.6,297.3 269.3,297.7 270.1,297.2 270.8,297.2 271.5,297.6 272.3,297.1 273.0,297.3 273.7,297.7 274.4,297.6 275.2,297.9 275.9,297.9 276.6,296.5 277.4,295.0 278.2,294.8 279.0,295.7 279.9,296.0 280.0,296.4 280.7,296.1 281.5,296.1 282.2,296.2 282.9,296.0 283.7,295.7 284.4,295.7 285.1,296.3 285.8,296.2 286.6,296.4 287.3,296.8 288.0,296.7 288.8,297.2 289.5,296.7 290.2,295.4 291.0,295.1 291.7,294.2 292.4,294.1 293.2,294.1 293.9,294.1 294.6,294.3 295.4,294.3 296.1,294.2 296.8,294.2 297.5,294.3 298.3,294.7 299.0,294.2 299.7,294.9 300.5,295.0 301.2,294.4 301.9,293.7 302.7,293.5 303.4,293.9 304.1,294.3 304.9,295.2 305.6,295.3 306.3,295.7 307.0,295.8 307.8,295.3 308.5,295.8 309.2,295.9 310.0,295.4 310.7,295.7 311.4,295.7 312.2,296.1 312.9,295.6 313.6,295.4 314.4,295.4 315.2,296.1 316.0,296.2 316.9,296.6 317.7,297.5 318.5,296.6 319.3,296.2 320.1,296.5 320.9,295.7 321.7,295.8 322.4,295.6 323.1,295.6 323.9,295.6 324.6,295.5 325.3,295.2 326.1,295.1 326.8,295.4 327.5,295.5 328.2,295.7 329.0,296.2 329.7,296.4 330.4,296.6 331.2,295.0 331.9,295.0 332.6,294.5 333.4,294.3 334.1,294.8 334.8,294.4 335.6,294.2 336.3,294.2 337.0,294.1 337.7,294.5 338.5,294.2 339.2,293.8 339.9,294.1 340.7,293.8 341.4,293.7 342.1,293.9 342.9,293.9 343.6,294.2 344.3,295.0 345.1,295.3 345.8,295.7 346.5,296.1 347.3,296.4 348.0,296.5 348.7,296.6 349.4,297.3 350.2,296.9 350.9,296.8 351.6,297.2 352.4,297.0 353.2,297.5 354.0,297.6 354.9,297.9 355.0,298.3 355.7,298.4 356.5,298.0 357.2,297.2 357.9,297.7 358.7,297.8 359.4,297.6 360.1,297.3 360.8,297.2 361.6,295.9 362.3,294.8 363.0,293.9 363.8,294.8 364.5,295.7 365.2,296.1 366.0,296.9 366.7,296.3 367.4,296.6 368.2,296.3 368.9,296.6 369.6,296.4 370.4,296.6 371.1,297.1 371.8,297.2 372.5,296.9 373.3,297.6 374.0,297.5 374.7,297.5 375.5,297.1 376.2,296.3 376.9,296.1 377.7,295.8 378.4,295.7 379.1,295.7 379.9,295.8 380.6,296.2 381.3,296.2 382.0,296.4 382.8,296.4 383.5,296.5 384.2,297.1 385.0,296.5 385.7,297.7 386.4,297.5 387.3,296.5 388.1,296.1 389.0,294.8 389.8,294.2 390.6,294.3 391.4,294.7 392.2,295.6 393.0,296.4 393.7,296.4 394.5,296.6 395.2,296.9 395.9,297.1 396.7,297.7 397.4,297.1 398.1,297.6 398.9,297.5 399.6,297.7 400.3,297.3 401.1,297.2 401.8,297.0 402.5,296.7 403.2,296.5 404.0,296.4 404.7,296.4 405.4,296.7 406.2,295.9 406.9,296.4 407.6,296.7 408.4,296.2 409.1,295.8 409.8,295.6 410.6,296.0 411.3,296.3 412.0,295.9 412.7,295.9 413.5,296.2 414.2,296.0 414.9,295.7 415.7,296.2 416.4,296.3 417.1,296.4 417.9,296.9 418.6,296.3 419.3,295.8 420.1,295.0 420.8,295.4 421.5,295.9 422.3,296.0 423.0,296.2 423.7,296.4 424.4,296.3 425.2,296.6 425.9,296.4 426.6,296.3 427.4,296.2 428.1,296.0 428.7,296.6 429.4,296.6 430.0,296.4 430.7,296.1 431.5,296.0 432.2,296.1 432.9,295.6 433.7,295.3 434.4,295.1 435.1,295.0 435.8,295.0 436.6,295.8 437.3,295.4 438.0,295.9 438.8,296.0 439.5,296.3 440.2,296.8 441.0,296.9 441.7,297.2 442.4,298.0 443.2,297.5 443.9,297.4 444.6,297.2 445.4,297.6 446.1,297.5 446.8,297.2 447.5,297.0 448.3,297.5 449.0,297.5 449.7,297.1 450.5,297.6 451.2,296.8 451.9,296.5 452.7,296.6 453.4,296.4 454.1,296.5 454.9,296.2 455.6,297.2 456.3,297.2 457.0,297.4 457.8,297.2 458.5,297.6 459.2,298.0 460.0,298.3 460.7,297.6 461.4,296.9 462.2,297.0 462.9,296.0 463.6,295.9 464.4,296.1 465.1,296.1 465.8,296.2 466.5,296.5 467.3,296.0 468.0,296.4 468.7,296.9 469.5,296.5 470.2,296.5 470.9,296.4 471.7,296.4 472.4,296.9 473.1,296.3 473.9,296.4 474.6,296.7 475.3,296.1 476.1,295.5 476.8,295.0 477.5,295.8 478.2,296.1 479.0,297.5 479.7,297.7 480.4,298.6 481.2,297.5 481.9,295.2 482.6,293.9 483.4,293.9 484.1,293.5 484.8,294.0 485.6,293.2 486.3,293.2 487.0,293.5 487.7,293.7 488.5,294.1 489.2,294.8 489.9,295.0 490.7,295.1 491.4,296.3 492.1,296.3 492.9,296.9 493.6,296.7 494.3,297.2 495.1,297.3 495.8,297.7 496.5,297.5 497.3,297.0 498.0,296.9 498.7,296.7 499.4,296.0 500.2,296.3 500.9,296.8 501.6,297.2 502.4,297.8 503.1,298.3 503.8,298.9 504.6,299.3 505.3,299.3 506.0,299.8 506.8,299.8 507.6,299.6 508.4,299.7 509.2,300.3 510.0,300.4 510.9,299.2 511.7,298.7 512.4,298.5 513.1,298.3 513.9,298.5 514.6,298.2 515.3,297.8 516.1,297.0 516.8,297.0 517.5,296.7 518.2,297.1 519.0,296.9 519.7,296.2 520.4,296.3 521.2,296.3"/>
</g>
<rect x="61.6" y="21.5" width="460.1" height="342.9" fill="none" stroke="#303030" stroke-width="1.25"/>
<g stroke="#262626" stroke-width="1">
<line x1="61.60" y1="364.4" x2="61.60" y2="366.9"/>
<line x1="107.61" y1="364.4" x2="107.61" y2="366.9"/>
<line x1="153.62" y1="364.4" x2="153.62" y2="366.9"/>
<line x1="199.63" y1="364.4" x2="199.63" y2="366.9"/>
<line x1="245.64" y1="364.4" x2="245.64" y2="366.9"/>
<line x1="291.65" y1="364.4" x2="291.65" y2="366.9"/>
<line x1="337.66" y1="364.4" x2="337.66" y2="366.9"/>
<line x1="383.67" y1="364.4" x2="383.67" y2="366.9"/>
<line x1="429.68" y1="364.4" x2="429.68" y2="366.9"/>
<line x1="475.69" y1="364.4" x2="475.69" y2="366.9"/>
<line x1="521.70" y1="364.4" x2="521.70" y2="366.9"/>
<line x1="59.1" y1="364.40" x2="61.6" y2="364.40"/>
<line x1="59.1" y1="295.82" x2="61.6" y2="295.82"/>
<line x1="59.1" y1="227.24" x2="61.6" y2="227.24"/>
<line x1="59.1" y1="158.66" x2="61.6" y2="158.66"/>
<line x1="59.1" y1="90.08" x2="61.6" y2="90.08"/>
<line x1="59.1" y1="21.50" x2="61.6" y2="21.50"/>
</g>
<g text-anchor="middle">
<text x="62.10" y="384">0</text>
<text x="108.11" y="384">150</text>
<text x="154.12" y="384">300</text>
<text x="200.13" y="384">450</text>
<text x="246.14" y="384">600</text>
<text x="292.15" y="384">750</text>
<text x="338.16" y="384">900</text>
<text x="384.17" y="384">1050</text>
<text x="430.18" y="384">1200</text>
<text x="476.19" y="384">1350</text>
<text x="522.20" y="384">1500</text>
</g><g text-anchor="end">
<text x="56.9" y="372.60">0.0</text>
<text x="56.9" y="303.62">0.3</text>
<text x="56.9" y="235.04">0.6</text>
<text x="56.9" y="166.46">0.9</text>
<text x="56.9" y="97.88">1.2</text>
<text x="56.9" y="29.30">1.5</text>
</g>
<text x="291.5" y="404.7" text-anchor="middle">Number of iterations</text>
<text transform="translate(24.3,192.6) rotate(-90)" text-anchor="middle">Energy (J)</text>
<rect x="355.5" y="31.4" width="155.9" height="151.7" rx="3" ry="3" fill="#fff" fill-opacity="0.8" stroke="#d6d6d6" stroke-width="1.1"/>
<line x1="363.1" y1="47.1" x2="406.8" y2="47.1" stroke="#8fb555" stroke-width="2.7"/>
<text x="422.0" y="54.5">AC</text>
<line x1="363.1" y1="76.4" x2="406.8" y2="76.4" stroke="#7a5aa8" stroke-width="2.7"/>
<text x="422.0" y="83.8">DQN</text>
<line x1="363.1" y1="105.6" x2="406.8" y2="105.6" stroke="#f28c33" stroke-width="2.7"/>
<text x="422.0" y="113.0">DDQN</text>
<line x1="363.1" y1="134.9" x2="406.8" y2="134.9" stroke="#3c78d8" stroke-width="2.7"/>
<text x="422.0" y="142.3">DDPG</text>
<line x1="363.1" y1="164.1" x2="406.8" y2="164.1" stroke="#b83c3c" stroke-width="2.7"/>
<text x="422.0" y="171.5">IF-DDPG</text>
</svg></body></html>
